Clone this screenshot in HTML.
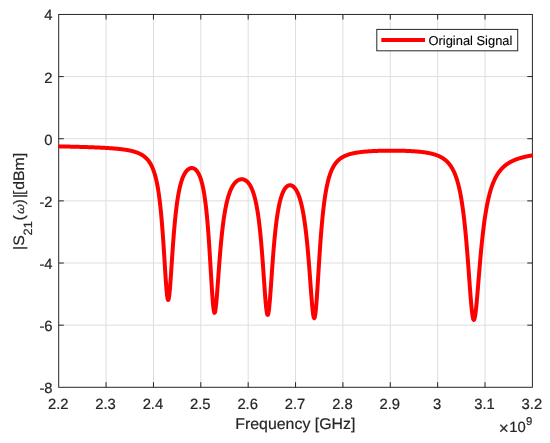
<!DOCTYPE html>
<html><head><meta charset="utf-8"><title>Original Signal</title>
<style>html,body{margin:0;padding:0;background:#fff}body{width:550px;height:443px;overflow:hidden}</style></head>
<body>
<svg width="550" height="443" viewBox="0 0 550 443" style="display:block">
<rect width="550" height="443" fill="#fff"/>
<path d="M106.07,14.45V387.3M153.44,14.45V387.3M200.81,14.45V387.3M248.18,14.45V387.3M295.55,14.45V387.3M342.92,14.45V387.3M390.29,14.45V387.3M437.66,14.45V387.3M485.03,14.45V387.3M58.7,76.59H532.4M58.7,138.73H532.4M58.7,200.88H532.4M58.7,263.02H532.4M58.7,325.16H532.4" stroke="#dedede" stroke-width="1" fill="none"/>
<path d="M106.07,387.3v-5.1M106.07,14.45v5.1M153.44,387.3v-5.1M153.44,14.45v5.1M200.81,387.3v-5.1M200.81,14.45v5.1M248.18,387.3v-5.1M248.18,14.45v5.1M295.55,387.3v-5.1M295.55,14.45v5.1M342.92,387.3v-5.1M342.92,14.45v5.1M390.29,387.3v-5.1M390.29,14.45v5.1M437.66,387.3v-5.1M437.66,14.45v5.1M485.03,387.3v-5.1M485.03,14.45v5.1M58.7,76.59h5.1M532.4,76.59h-5.1M58.7,138.73h5.1M532.4,138.73h-5.1M58.7,200.88h5.1M532.4,200.88h-5.1M58.7,263.02h5.1M532.4,263.02h-5.1M58.7,325.16h5.1M532.4,325.16h-5.1" stroke="#262626" stroke-width="1" fill="none"/>
<rect x="58.7" y="14.45" width="473.7" height="372.85" fill="none" stroke="#262626" stroke-width="1"/>
<clipPath id="c"><rect x="58.2" y="14.45" width="474.7" height="372.85"/></clipPath>
<path d="M56.91,146.32 L57.22,146.33 L57.54,146.34 L57.85,146.34 L58.17,146.35 L58.48,146.36 L58.80,146.36 L59.12,146.37 L59.43,146.38 L59.75,146.38 L60.06,146.39 L60.38,146.40 L60.69,146.41 L61.01,146.41 L61.33,146.42 L61.64,146.43 L61.96,146.43 L62.27,146.44 L62.59,146.45 L62.91,146.46 L63.22,146.46 L63.54,146.47 L63.85,146.48 L64.17,146.48 L64.48,146.49 L64.80,146.50 L65.12,146.51 L65.43,146.51 L65.75,146.52 L66.06,146.53 L66.38,146.54 L66.69,146.54 L67.01,146.55 L67.33,146.56 L67.64,146.57 L67.96,146.57 L68.27,146.58 L68.59,146.59 L68.91,146.60 L69.22,146.60 L69.54,146.61 L69.85,146.62 L70.17,146.63 L70.48,146.64 L70.80,146.64 L71.12,146.65 L71.43,146.66 L71.75,146.67 L72.06,146.68 L72.38,146.68 L72.70,146.69 L73.01,146.70 L73.33,146.71 L73.64,146.72 L73.96,146.72 L74.27,146.73 L74.59,146.74 L74.91,146.75 L75.22,146.76 L75.54,146.77 L75.85,146.77 L76.17,146.78 L76.48,146.79 L76.80,146.80 L77.12,146.81 L77.43,146.82 L77.75,146.83 L78.06,146.83 L78.38,146.84 L78.70,146.85 L79.01,146.86 L79.33,146.87 L79.64,146.88 L79.96,146.89 L80.27,146.90 L80.59,146.91 L80.91,146.92 L81.22,146.92 L81.54,146.93 L81.85,146.94 L82.17,146.95 L82.48,146.96 L82.80,146.97 L83.12,146.98 L83.43,146.99 L83.75,147.00 L84.06,147.01 L84.38,147.02 L84.70,147.03 L85.01,147.04 L85.33,147.05 L85.64,147.06 L85.96,147.07 L86.27,147.08 L86.59,147.09 L86.91,147.10 L87.22,147.11 L87.54,147.12 L87.85,147.13 L88.17,147.14 L88.49,147.15 L88.80,147.17 L89.12,147.18 L89.43,147.19 L89.75,147.20 L90.06,147.21 L90.38,147.22 L90.70,147.23 L91.01,147.24 L91.33,147.26 L91.64,147.27 L91.96,147.28 L92.27,147.29 L92.59,147.30 L92.91,147.31 L93.22,147.33 L93.54,147.34 L93.85,147.35 L94.17,147.36 L94.49,147.38 L94.80,147.39 L95.12,147.40 L95.43,147.41 L95.75,147.43 L96.06,147.44 L96.38,147.45 L96.70,147.47 L97.01,147.48 L97.33,147.49 L97.64,147.51 L97.96,147.52 L98.28,147.54 L98.59,147.55 L98.91,147.56 L99.22,147.58 L99.54,147.59 L99.85,147.61 L100.17,147.62 L100.49,147.64 L100.80,147.65 L101.12,147.67 L101.43,147.68 L101.75,147.70 L102.06,147.72 L102.38,147.73 L102.70,147.75 L103.01,147.76 L103.33,147.78 L103.64,147.80 L103.96,147.81 L104.28,147.83 L104.59,147.85 L104.91,147.87 L105.22,147.88 L105.54,147.90 L105.85,147.92 L106.17,147.94 L106.49,147.96 L106.80,147.98 L107.12,148.00 L107.43,148.02 L107.75,148.03 L108.06,148.05 L108.38,148.07 L108.70,148.09 L109.01,148.12 L109.33,148.14 L109.64,148.16 L109.96,148.18 L110.28,148.20 L110.59,148.22 L110.91,148.25 L111.22,148.27 L111.54,148.29 L111.85,148.31 L112.17,148.34 L112.49,148.36 L112.80,148.39 L113.12,148.41 L113.43,148.44 L113.75,148.46 L114.07,148.49 L114.38,148.51 L114.70,148.54 L115.01,148.57 L115.33,148.59 L115.64,148.62 L115.96,148.65 L116.28,148.68 L116.59,148.71 L116.91,148.74 L117.22,148.77 L117.54,148.80 L117.85,148.83 L118.17,148.86 L118.49,148.89 L118.80,148.93 L119.12,148.96 L119.43,148.99 L119.75,149.03 L120.07,149.06 L120.38,149.10 L120.70,149.14 L121.01,149.17 L121.33,149.21 L121.64,149.25 L121.96,149.29 L122.28,149.33 L122.59,149.37 L122.91,149.41 L123.22,149.45 L123.54,149.49 L123.85,149.54 L124.17,149.58 L124.49,149.63 L124.80,149.67 L125.12,149.72 L125.43,149.77 L125.75,149.82 L126.07,149.87 L126.38,149.92 L126.70,149.97 L127.01,150.03 L127.33,150.08 L127.64,150.14 L127.96,150.19 L128.28,150.25 L128.59,150.31 L128.91,150.37 L129.22,150.44 L129.54,150.50 L129.85,150.57 L130.17,150.63 L130.49,150.70 L130.80,150.77 L131.12,150.84 L131.43,150.92 L131.75,150.99 L132.07,151.07 L132.38,151.15 L132.70,151.23 L133.01,151.31 L133.33,151.40 L133.64,151.48 L133.96,151.57 L134.28,151.66 L134.59,151.76 L134.91,151.86 L135.22,151.95 L135.54,152.06 L135.86,152.16 L136.17,152.27 L136.49,152.38 L136.80,152.49 L137.12,152.61 L137.43,152.73 L137.75,152.86 L138.07,152.98 L138.38,153.12 L138.70,153.25 L139.01,153.39 L139.33,153.53 L139.64,153.68 L139.96,153.84 L140.28,153.99 L140.59,154.16 L140.91,154.32 L141.22,154.50 L141.54,154.68 L141.86,154.86 L142.17,155.05 L142.49,155.25 L142.80,155.46 L143.12,155.67 L143.43,155.89 L143.75,156.12 L144.07,156.35 L144.38,156.59 L144.70,156.85 L145.01,157.11 L145.33,157.38 L145.64,157.66 L145.96,157.96 L146.28,158.26 L146.59,158.58 L146.91,158.91 L147.22,159.25 L147.54,159.61 L147.86,159.98 L148.17,160.37 L148.49,160.77 L148.80,161.20 L149.12,161.63 L149.43,162.09 L149.75,162.57 L150.07,163.07 L150.38,163.60 L150.70,164.15 L151.01,164.72 L151.33,165.32 L151.65,165.95 L151.96,166.61 L152.28,167.30 L152.59,168.03 L152.91,168.79 L153.22,169.60 L153.54,170.44 L153.86,171.33 L154.17,172.27 L154.49,173.25 L154.80,174.29 L155.12,175.39 L155.43,176.55 L155.75,177.77 L156.07,179.06 L156.38,180.42 L156.70,181.87 L157.01,183.40 L157.33,185.01 L157.65,186.73 L157.96,188.54 L158.28,190.47 L158.59,192.51 L158.91,194.67 L159.22,196.96 L159.54,199.40 L159.86,201.98 L160.17,204.71 L160.49,207.61 L160.80,210.68 L161.12,213.92 L161.44,217.35 L161.75,220.97 L162.07,224.79 L162.38,228.79 L162.70,232.99 L163.01,237.37 L163.33,241.93 L163.65,246.65 L163.96,251.50 L164.28,256.46 L164.59,261.48 L164.91,266.51 L165.22,271.50 L165.54,276.35 L165.86,281.01 L166.17,285.36 L166.49,289.31 L166.80,292.77 L167.12,295.63 L167.44,297.83 L167.75,299.28 L168.07,299.95 L168.38,299.81 L168.70,298.89 L169.01,297.21 L169.33,294.83 L169.65,291.84 L169.96,288.33 L170.28,284.39 L170.59,280.13 L170.91,275.62 L171.22,270.96 L171.54,266.21 L171.86,261.46 L172.17,256.73 L172.49,252.09 L172.80,247.57 L173.12,243.18 L173.44,238.95 L173.75,234.89 L174.07,231.00 L174.38,227.30 L174.70,223.77 L175.01,220.43 L175.33,217.26 L175.65,214.26 L175.96,211.42 L176.28,208.74 L176.59,206.21 L176.91,203.83 L177.22,201.57 L177.54,199.45 L177.86,197.45 L178.17,195.56 L178.49,193.78 L178.80,192.11 L179.12,190.52 L179.44,189.03 L179.75,187.63 L180.07,186.30 L180.38,185.05 L180.70,183.87 L181.01,182.75 L181.33,181.70 L181.65,180.71 L181.96,179.77 L182.28,178.89 L182.59,178.06 L182.91,177.27 L183.23,176.53 L183.54,175.83 L183.86,175.18 L184.17,174.56 L184.49,173.97 L184.80,173.43 L185.12,172.91 L185.44,172.43 L185.75,171.98 L186.07,171.55 L186.38,171.16 L186.70,170.79 L187.01,170.45 L187.33,170.13 L187.65,169.84 L187.96,169.58 L188.28,169.33 L188.59,169.11 L188.91,168.91 L189.23,168.73 L189.54,168.57 L189.86,168.44 L190.17,168.32 L190.49,168.23 L190.80,168.15 L191.12,168.10 L191.44,168.07 L191.75,168.05 L192.07,168.06 L192.38,168.09 L192.70,168.14 L193.01,168.21 L193.33,168.30 L193.65,168.42 L193.96,168.55 L194.28,168.71 L194.59,168.90 L194.91,169.10 L195.23,169.34 L195.54,169.60 L195.86,169.88 L196.17,170.20 L196.49,170.54 L196.80,170.91 L197.12,171.32 L197.44,171.76 L197.75,172.23 L198.07,172.75 L198.38,173.30 L198.70,173.89 L199.02,174.52 L199.33,175.20 L199.65,175.93 L199.96,176.71 L200.28,177.54 L200.59,178.43 L200.91,179.38 L201.23,180.40 L201.54,181.48 L201.86,182.64 L202.17,183.87 L202.49,185.19 L202.80,186.60 L203.12,188.10 L203.44,189.70 L203.75,191.41 L204.07,193.23 L204.38,195.17 L204.70,197.24 L205.02,199.44 L205.33,201.79 L205.65,204.29 L205.96,206.96 L206.28,209.79 L206.59,212.80 L206.91,215.99 L207.23,219.38 L207.54,222.97 L207.86,226.76 L208.17,230.76 L208.49,234.96 L208.80,239.37 L209.12,243.98 L209.44,248.77 L209.75,253.73 L210.07,258.84 L210.38,264.06 L210.70,269.35 L211.02,274.66 L211.33,279.94 L211.65,285.11 L211.96,290.08 L212.28,294.79 L212.59,299.12 L212.91,303.00 L213.23,306.33 L213.54,309.04 L213.86,311.06 L214.17,312.35 L214.49,312.88 L214.81,312.66 L215.12,311.71 L215.44,310.09 L215.75,307.84 L216.07,305.06 L216.38,301.81 L216.70,298.19 L217.02,294.29 L217.33,290.17 L217.65,285.91 L217.96,281.57 L218.28,277.20 L218.59,272.85 L218.91,268.56 L219.23,264.35 L219.54,260.25 L219.86,256.28 L220.17,252.43 L220.49,248.74 L220.81,245.19 L221.12,241.79 L221.44,238.54 L221.75,235.43 L222.07,232.48 L222.38,229.66 L222.70,226.98 L223.02,224.43 L223.33,222.01 L223.65,219.71 L223.96,217.53 L224.28,215.45 L224.60,213.48 L224.91,211.61 L225.23,209.83 L225.54,208.14 L225.86,206.54 L226.17,205.02 L226.49,203.57 L226.81,202.19 L227.12,200.89 L227.44,199.64 L227.75,198.46 L228.07,197.34 L228.38,196.27 L228.70,195.25 L229.02,194.28 L229.33,193.36 L229.65,192.49 L229.96,191.65 L230.28,190.86 L230.60,190.11 L230.91,189.39 L231.23,188.71 L231.54,188.06 L231.86,187.44 L232.17,186.85 L232.49,186.30 L232.81,185.77 L233.12,185.26 L233.44,184.79 L233.75,184.33 L234.07,183.90 L234.38,183.50 L234.70,183.11 L235.02,182.75 L235.33,182.41 L235.65,182.09 L235.96,181.79 L236.28,181.50 L236.60,181.24 L236.91,180.99 L237.23,180.76 L237.54,180.55 L237.86,180.36 L238.17,180.18 L238.49,180.01 L238.81,179.87 L239.12,179.74 L239.44,179.62 L239.75,179.52 L240.07,179.43 L240.38,179.36 L240.70,179.31 L241.02,179.27 L241.33,179.24 L241.65,179.23 L241.96,179.23 L242.28,179.25 L242.60,179.29 L242.91,179.34 L243.23,179.40 L243.54,179.48 L243.86,179.58 L244.17,179.69 L244.49,179.82 L244.81,179.97 L245.12,180.13 L245.44,180.31 L245.75,180.51 L246.07,180.72 L246.39,180.96 L246.70,181.21 L247.02,181.49 L247.33,181.79 L247.65,182.10 L247.96,182.44 L248.28,182.81 L248.60,183.20 L248.91,183.61 L249.23,184.05 L249.54,184.51 L249.86,185.01 L250.17,185.53 L250.49,186.09 L250.81,186.68 L251.12,187.30 L251.44,187.96 L251.75,188.66 L252.07,189.39 L252.39,190.17 L252.70,190.99 L253.02,191.86 L253.33,192.78 L253.65,193.75 L253.96,194.77 L254.28,195.86 L254.60,197.00 L254.91,198.21 L255.23,199.48 L255.54,200.83 L255.86,202.25 L256.17,203.76 L256.49,205.35 L256.81,207.03 L257.12,208.81 L257.44,210.69 L257.75,212.67 L258.07,214.77 L258.39,216.98 L258.70,219.32 L259.02,221.79 L259.33,224.39 L259.65,227.13 L259.96,230.03 L260.28,233.07 L260.60,236.27 L260.91,239.63 L261.23,243.15 L261.54,246.83 L261.86,250.66 L262.18,254.65 L262.49,258.78 L262.81,263.04 L263.12,267.42 L263.44,271.88 L263.75,276.40 L264.07,280.94 L264.39,285.45 L264.70,289.88 L265.02,294.18 L265.33,298.27 L265.65,302.07 L265.96,305.52 L266.28,308.54 L266.60,311.04 L266.91,312.97 L267.23,314.28 L267.54,314.92 L267.86,314.88 L268.18,314.15 L268.49,312.77 L268.81,310.76 L269.12,308.19 L269.44,305.12 L269.75,301.62 L270.07,297.78 L270.39,293.67 L270.70,289.35 L271.02,284.91 L271.33,280.41 L271.65,275.88 L271.97,271.38 L272.28,266.95 L272.60,262.61 L272.91,258.38 L273.23,254.29 L273.54,250.35 L273.86,246.57 L274.18,242.94 L274.49,239.48 L274.81,236.18 L275.12,233.04 L275.44,230.06 L275.75,227.23 L276.07,224.55 L276.39,222.01 L276.70,219.61 L277.02,217.35 L277.33,215.20 L277.65,213.18 L277.97,211.27 L278.28,209.47 L278.60,207.77 L278.91,206.16 L279.23,204.65 L279.54,203.22 L279.86,201.88 L280.18,200.62 L280.49,199.42 L280.81,198.30 L281.12,197.25 L281.44,196.25 L281.75,195.32 L282.07,194.44 L282.39,193.62 L282.70,192.84 L283.02,192.12 L283.33,191.44 L283.65,190.81 L283.97,190.22 L284.28,189.67 L284.60,189.15 L284.91,188.68 L285.23,188.24 L285.54,187.83 L285.86,187.46 L286.18,187.12 L286.49,186.81 L286.81,186.53 L287.12,186.28 L287.44,186.06 L287.75,185.87 L288.07,185.70 L288.39,185.56 L288.70,185.44 L289.02,185.35 L289.33,185.29 L289.65,185.25 L289.97,185.23 L290.28,185.24 L290.60,185.27 L290.91,185.33 L291.23,185.41 L291.54,185.52 L291.86,185.65 L292.18,185.80 L292.49,185.98 L292.81,186.19 L293.12,186.42 L293.44,186.67 L293.76,186.96 L294.07,187.26 L294.39,187.60 L294.70,187.96 L295.02,188.35 L295.33,188.78 L295.65,189.23 L295.97,189.71 L296.28,190.23 L296.60,190.78 L296.91,191.36 L297.23,191.98 L297.54,192.64 L297.86,193.33 L298.18,194.07 L298.49,194.85 L298.81,195.67 L299.12,196.53 L299.44,197.45 L299.76,198.42 L300.07,199.43 L300.39,200.51 L300.70,201.64 L301.02,202.83 L301.33,204.09 L301.65,205.41 L301.97,206.80 L302.28,208.27 L302.60,209.81 L302.91,211.43 L303.23,213.14 L303.54,214.94 L303.86,216.84 L304.18,218.83 L304.49,220.92 L304.81,223.13 L305.12,225.44 L305.44,227.87 L305.76,230.43 L306.07,233.11 L306.39,235.92 L306.70,238.87 L307.02,241.95 L307.33,245.17 L307.65,248.53 L307.97,252.03 L308.28,255.66 L308.60,259.43 L308.91,263.33 L309.23,267.33 L309.55,271.44 L309.86,275.63 L310.18,279.87 L310.49,284.14 L310.81,288.40 L311.12,292.60 L311.44,296.69 L311.76,300.63 L312.07,304.33 L312.39,307.74 L312.70,310.79 L313.02,313.39 L313.33,315.49 L313.65,317.02 L313.97,317.93 L314.28,318.18 L314.60,317.75 L314.91,316.64 L315.23,314.87 L315.55,312.47 L315.86,309.49 L316.18,305.99 L316.49,302.05 L316.81,297.75 L317.12,293.15 L317.44,288.32 L317.76,283.35 L318.07,278.30 L318.39,273.21 L318.70,268.14 L319.02,263.13 L319.33,258.22 L319.65,253.42 L319.97,248.76 L320.28,244.26 L320.60,239.92 L320.91,235.75 L321.23,231.76 L321.55,227.95 L321.86,224.32 L322.18,220.86 L322.49,217.57 L322.81,214.44 L323.12,211.48 L323.44,208.66 L323.76,205.99 L324.07,203.47 L324.39,201.07 L324.70,198.80 L325.02,196.66 L325.34,194.62 L325.65,192.70 L325.97,190.87 L326.28,189.14 L326.60,187.50 L326.91,185.95 L327.23,184.47 L327.55,183.08 L327.86,181.75 L328.18,180.49 L328.49,179.30 L328.81,178.16 L329.12,177.08 L329.44,176.05 L329.76,175.08 L330.07,174.15 L330.39,173.26 L330.70,172.42 L331.02,171.62 L331.34,170.85 L331.65,170.12 L331.97,169.42 L332.28,168.75 L332.60,168.12 L332.91,167.51 L333.23,166.93 L333.55,166.37 L333.86,165.84 L334.18,165.33 L334.49,164.84 L334.81,164.37 L335.12,163.92 L335.44,163.49 L335.76,163.08 L336.07,162.68 L336.39,162.30 L336.70,161.93 L337.02,161.58 L337.34,161.24 L337.65,160.92 L337.97,160.60 L338.28,160.30 L338.60,160.01 L338.91,159.73 L339.23,159.46 L339.55,159.20 L339.86,158.95 L340.18,158.71 L340.49,158.48 L340.81,158.25 L341.13,158.04 L341.44,157.83 L341.76,157.62 L342.07,157.43 L342.39,157.24 L342.70,157.06 L343.02,156.88 L343.34,156.71 L343.65,156.54 L343.97,156.38 L344.28,156.22 L344.60,156.07 L344.91,155.93 L345.23,155.79 L345.55,155.65 L345.86,155.51 L346.18,155.39 L346.49,155.26 L346.81,155.14 L347.13,155.02 L347.44,154.91 L347.76,154.79 L348.07,154.69 L348.39,154.58 L348.70,154.48 L349.02,154.38 L349.34,154.28 L349.65,154.19 L349.97,154.10 L350.28,154.01 L350.60,153.92 L350.92,153.84 L351.23,153.76 L351.55,153.68 L351.86,153.60 L352.18,153.53 L352.49,153.45 L352.81,153.38 L353.13,153.31 L353.44,153.24 L353.76,153.18 L354.07,153.11 L354.39,153.05 L354.70,152.99 L355.02,152.93 L355.34,152.87 L355.65,152.81 L355.97,152.76 L356.28,152.70 L356.60,152.65 L356.92,152.60 L357.23,152.55 L357.55,152.50 L357.86,152.45 L358.18,152.41 L358.49,152.36 L358.81,152.32 L359.13,152.27 L359.44,152.23 L359.76,152.19 L360.07,152.15 L360.39,152.11 L360.70,152.07 L361.02,152.03 L361.34,151.99 L361.65,151.96 L361.97,151.92 L362.28,151.89 L362.60,151.85 L362.92,151.82 L363.23,151.79 L363.55,151.76 L363.86,151.73 L364.18,151.70 L364.49,151.67 L364.81,151.64 L365.13,151.61 L365.44,151.58 L365.76,151.56 L366.07,151.53 L366.39,151.50 L366.70,151.48 L367.02,151.45 L367.34,151.43 L367.65,151.41 L367.97,151.38 L368.28,151.36 L368.60,151.34 L368.92,151.32 L369.23,151.30 L369.55,151.27 L369.86,151.25 L370.18,151.23 L370.49,151.22 L370.81,151.20 L371.13,151.18 L371.44,151.16 L371.76,151.14 L372.07,151.13 L372.39,151.11 L372.71,151.09 L373.02,151.08 L373.34,151.06 L373.65,151.05 L373.97,151.03 L374.28,151.02 L374.60,151.00 L374.92,150.99 L375.23,150.97 L375.55,150.96 L375.86,150.95 L376.18,150.94 L376.49,150.92 L376.81,150.91 L377.13,150.90 L377.44,150.89 L377.76,150.88 L378.07,150.87 L378.39,150.86 L378.71,150.85 L379.02,150.84 L379.34,150.83 L379.65,150.82 L379.97,150.81 L380.28,150.80 L380.60,150.79 L380.92,150.78 L381.23,150.77 L381.55,150.77 L381.86,150.76 L382.18,150.75 L382.50,150.75 L382.81,150.74 L383.13,150.73 L383.44,150.73 L383.76,150.72 L384.07,150.71 L384.39,150.71 L384.71,150.70 L385.02,150.70 L385.34,150.69 L385.65,150.69 L385.97,150.68 L386.28,150.68 L386.60,150.68 L386.92,150.67 L387.23,150.67 L387.55,150.67 L387.86,150.66 L388.18,150.66 L388.50,150.66 L388.81,150.66 L389.13,150.65 L389.44,150.65 L389.76,150.65 L390.07,150.65 L390.39,150.65 L390.71,150.65 L391.02,150.65 L391.34,150.65 L391.65,150.65 L391.97,150.64 L392.28,150.65 L392.60,150.65 L392.92,150.65 L393.23,150.65 L393.55,150.65 L393.86,150.65 L394.18,150.65 L394.50,150.65 L394.81,150.65 L395.13,150.66 L395.44,150.66 L395.76,150.66 L396.07,150.66 L396.39,150.67 L396.71,150.67 L397.02,150.67 L397.34,150.68 L397.65,150.68 L397.97,150.69 L398.29,150.69 L398.60,150.69 L398.92,150.70 L399.23,150.70 L399.55,150.71 L399.86,150.72 L400.18,150.72 L400.50,150.73 L400.81,150.73 L401.13,150.74 L401.44,150.75 L401.76,150.76 L402.07,150.76 L402.39,150.77 L402.71,150.78 L403.02,150.79 L403.34,150.80 L403.65,150.80 L403.97,150.81 L404.29,150.82 L404.60,150.83 L404.92,150.84 L405.23,150.85 L405.55,150.86 L405.86,150.88 L406.18,150.89 L406.50,150.90 L406.81,150.91 L407.13,150.92 L407.44,150.94 L407.76,150.95 L408.07,150.96 L408.39,150.98 L408.71,150.99 L409.02,151.00 L409.34,151.02 L409.65,151.03 L409.97,151.05 L410.29,151.07 L410.60,151.08 L410.92,151.10 L411.23,151.12 L411.55,151.13 L411.86,151.15 L412.18,151.17 L412.50,151.19 L412.81,151.21 L413.13,151.23 L413.44,151.25 L413.76,151.27 L414.07,151.29 L414.39,151.31 L414.71,151.33 L415.02,151.36 L415.34,151.38 L415.65,151.40 L415.97,151.43 L416.29,151.45 L416.60,151.48 L416.92,151.50 L417.23,151.53 L417.55,151.56 L417.86,151.59 L418.18,151.61 L418.50,151.64 L418.81,151.67 L419.13,151.70 L419.44,151.73 L419.76,151.77 L420.08,151.80 L420.39,151.83 L420.71,151.87 L421.02,151.90 L421.34,151.94 L421.65,151.97 L421.97,152.01 L422.29,152.05 L422.60,152.09 L422.92,152.13 L423.23,152.17 L423.55,152.21 L423.86,152.25 L424.18,152.30 L424.50,152.34 L424.81,152.39 L425.13,152.43 L425.44,152.48 L425.76,152.53 L426.08,152.58 L426.39,152.63 L426.71,152.69 L427.02,152.74 L427.34,152.79 L427.65,152.85 L427.97,152.91 L428.29,152.97 L428.60,153.03 L428.92,153.09 L429.23,153.15 L429.55,153.22 L429.86,153.28 L430.18,153.35 L430.50,153.42 L430.81,153.49 L431.13,153.57 L431.44,153.64 L431.76,153.72 L432.08,153.80 L432.39,153.88 L432.71,153.96 L433.02,154.05 L433.34,154.14 L433.65,154.23 L433.97,154.32 L434.29,154.41 L434.60,154.51 L434.92,154.61 L435.23,154.71 L435.55,154.81 L435.87,154.92 L436.18,155.03 L436.50,155.14 L436.81,155.26 L437.13,155.38 L437.44,155.50 L437.76,155.63 L438.08,155.76 L438.39,155.89 L438.71,156.03 L439.02,156.17 L439.34,156.31 L439.65,156.46 L439.97,156.61 L440.29,156.77 L440.60,156.93 L440.92,157.10 L441.23,157.27 L441.55,157.45 L441.87,157.63 L442.18,157.82 L442.50,158.01 L442.81,158.21 L443.13,158.42 L443.44,158.63 L443.76,158.85 L444.08,159.07 L444.39,159.30 L444.71,159.54 L445.02,159.79 L445.34,160.04 L445.65,160.31 L445.97,160.58 L446.29,160.86 L446.60,161.15 L446.92,161.45 L447.23,161.76 L447.55,162.08 L447.87,162.41 L448.18,162.76 L448.50,163.11 L448.81,163.48 L449.13,163.86 L449.44,164.26 L449.76,164.66 L450.08,165.09 L450.39,165.53 L450.71,165.98 L451.02,166.45 L451.34,166.94 L451.66,167.45 L451.97,167.98 L452.29,168.52 L452.60,169.09 L452.92,169.68 L453.23,170.30 L453.55,170.94 L453.87,171.60 L454.18,172.29 L454.50,173.01 L454.81,173.76 L455.13,174.54 L455.44,175.35 L455.76,176.19 L456.08,177.08 L456.39,177.99 L456.71,178.95 L457.02,179.95 L457.34,180.99 L457.66,182.08 L457.97,183.22 L458.29,184.41 L458.60,185.64 L458.92,186.94 L459.23,188.29 L459.55,189.71 L459.87,191.18 L460.18,192.73 L460.50,194.35 L460.81,196.04 L461.13,197.80 L461.45,199.65 L461.76,201.59 L462.08,203.61 L462.39,205.72 L462.71,207.94 L463.02,210.25 L463.34,212.66 L463.66,215.19 L463.97,217.82 L464.29,220.58 L464.60,223.44 L464.92,226.43 L465.23,229.55 L465.55,232.78 L465.87,236.15 L466.18,239.63 L466.50,243.24 L466.81,246.97 L467.13,250.82 L467.45,254.77 L467.76,258.82 L468.08,262.97 L468.39,267.18 L468.71,271.45 L469.02,275.75 L469.34,280.06 L469.66,284.35 L469.97,288.59 L470.29,292.73 L470.60,296.74 L470.92,300.58 L471.23,304.20 L471.55,307.54 L471.87,310.57 L472.18,313.24 L472.50,315.51 L472.81,317.33 L473.13,318.69 L473.45,319.56 L473.76,319.92 L474.08,319.78 L474.39,319.14 L474.71,318.03 L475.02,316.46 L475.34,314.47 L475.66,312.10 L475.97,309.39 L476.29,306.39 L476.60,303.14 L476.92,299.69 L477.24,296.08 L477.55,292.34 L477.87,288.53 L478.18,284.66 L478.50,280.77 L478.81,276.88 L479.13,273.03 L479.45,269.21 L479.76,265.46 L480.08,261.78 L480.39,258.18 L480.71,254.68 L481.02,251.27 L481.34,247.96 L481.66,244.75 L481.97,241.65 L482.29,238.66 L482.60,235.77 L482.92,232.98 L483.24,230.30 L483.55,227.72 L483.87,225.24 L484.18,222.85 L484.50,220.55 L484.81,218.34 L485.13,216.22 L485.45,214.19 L485.76,212.23 L486.08,210.35 L486.39,208.55 L486.71,206.81 L487.02,205.15 L487.34,203.55 L487.66,202.01 L487.97,200.53 L488.29,199.11 L488.60,197.75 L488.92,196.43 L489.24,195.17 L489.55,193.95 L489.87,192.78 L490.18,191.66 L490.50,190.57 L490.81,189.53 L491.13,188.52 L491.45,187.55 L491.76,186.62 L492.08,185.71 L492.39,184.84 L492.71,184.00 L493.02,183.19 L493.34,182.41 L493.66,181.66 L493.97,180.93 L494.29,180.22 L494.60,179.54 L494.92,178.88 L495.24,178.24 L495.55,177.62 L495.87,177.03 L496.18,176.45 L496.50,175.89 L496.81,175.35 L497.13,174.82 L497.45,174.31 L497.76,173.82 L498.08,173.34 L498.39,172.87 L498.71,172.42 L499.03,171.99 L499.34,171.56 L499.66,171.15 L499.97,170.75 L500.29,170.36 L500.60,169.98 L500.92,169.61 L501.24,169.25 L501.55,168.91 L501.87,168.57 L502.18,168.24 L502.50,167.92 L502.81,167.60 L503.13,167.30 L503.45,167.00 L503.76,166.72 L504.08,166.43 L504.39,166.16 L504.71,165.89 L505.03,165.63 L505.34,165.38 L505.66,165.13 L505.97,164.89 L506.29,164.65 L506.60,164.42 L506.92,164.20 L507.24,163.98 L507.55,163.77 L507.87,163.56 L508.18,163.35 L508.50,163.15 L508.82,162.96 L509.13,162.77 L509.45,162.58 L509.76,162.40 L510.08,162.22 L510.39,162.04 L510.71,161.87 L511.03,161.70 L511.34,161.54 L511.66,161.38 L511.97,161.22 L512.29,161.07 L512.60,160.92 L512.92,160.77 L513.24,160.63 L513.55,160.49 L513.87,160.35 L514.18,160.21 L514.50,160.08 L514.82,159.95 L515.13,159.82 L515.45,159.69 L515.76,159.57 L516.08,159.45 L516.39,159.33 L516.71,159.21 L517.03,159.10 L517.34,158.99 L517.66,158.88 L517.97,158.77 L518.29,158.66 L518.60,158.56 L518.92,158.46 L519.24,158.36 L519.55,158.26 L519.87,158.16 L520.18,158.07 L520.50,157.97 L520.82,157.88 L521.13,157.79 L521.45,157.70 L521.76,157.61 L522.08,157.53 L522.39,157.44 L522.71,157.36 L523.03,157.28 L523.34,157.20 L523.66,157.12 L523.97,157.04 L524.29,156.96 L524.61,156.89 L524.92,156.81 L525.24,156.74 L525.55,156.67 L525.87,156.60 L526.18,156.53 L526.50,156.46 L526.82,156.39 L527.13,156.32 L527.45,156.26 L527.76,156.19 L528.08,156.13 L528.39,156.07 L528.71,156.01 L529.03,155.94 L529.34,155.88 L529.66,155.83 L529.97,155.77 L530.29,155.71 L530.61,155.65 L530.92,155.60 L531.24,155.54 L531.55,155.49 L531.87,155.43 L532.18,155.38 L532.50,155.33 L532.82,155.28 L533.13,155.23 L533.45,155.18 L533.76,155.13 L534.08,155.08 L534.39,155.03" stroke="#ff0000" stroke-width="4" fill="none" stroke-linejoin="round" clip-path="url(#c)"/>
<g font-family="'Liberation Sans', Arial, Helvetica, sans-serif" fill="#262626" stroke="#262626" stroke-width="0.2" font-size="14.8" text-rendering="geometricPrecision">
<text x="58.20" y="408.6" text-anchor="middle">2.2</text>
<text x="105.57" y="408.6" text-anchor="middle">2.3</text>
<text x="152.94" y="408.6" text-anchor="middle">2.4</text>
<text x="200.31" y="408.6" text-anchor="middle">2.5</text>
<text x="247.68" y="408.6" text-anchor="middle">2.6</text>
<text x="295.05" y="408.6" text-anchor="middle">2.7</text>
<text x="342.42" y="408.6" text-anchor="middle">2.8</text>
<text x="389.79" y="408.6" text-anchor="middle">2.9</text>
<text x="437.16" y="408.6" text-anchor="middle">3</text>
<text x="484.53" y="408.6" text-anchor="middle">3.1</text>
<text x="531.90" y="408.6" text-anchor="middle">3.2</text>
<text x="52.6" y="20.45" text-anchor="end">4</text>
<text x="52.6" y="82.59" text-anchor="end">2</text>
<text x="52.6" y="144.73" text-anchor="end">0</text>
<text x="52.6" y="206.88" text-anchor="end">-2</text>
<text x="52.6" y="269.02" text-anchor="end">-4</text>
<text x="52.6" y="331.16" text-anchor="end">-6</text>
<text x="52.6" y="393.30" text-anchor="end">-8</text>
<text x="498.7" y="434.0" font-size="17.2">×</text><text x="509.3" y="431.9">10</text><text x="525.9" y="425.2" font-size="11.3">9</text>
<text transform="translate(295.3,429.3) scale(1,0.975)" text-anchor="middle" font-size="15.9">Frequency [GHz]</text>
<g transform="translate(23.8,250) rotate(-90) scale(1,0.95)"><text x="0" y="0" font-size="15.9">|</text><text x="4.3" y="0" font-size="15.9">S</text><text x="14.6" y="8.1" font-size="12.7">21</text><text x="29.4" y="0" font-size="15.9">(</text><text x="45.5" y="0" font-size="15.9">)</text><text x="52.1" y="0" font-size="15.9">|</text><text x="55.1" y="0" font-size="15.9">[</text><text x="60.15" y="0" font-size="15.9">dBm]</text><text transform="translate(35.5,0) skewX(-12)" font-size="12.4">ω</text></g>
</g>
<rect x="376.8" y="29.4" width="140.9" height="21.4" fill="#fff" stroke="#262626" stroke-width="1"/>
<path d="M381.3,39.9H425" stroke="#ff0000" stroke-width="4"/>
<text x="428.5" y="45.3" stroke="#000" stroke-width="0.1" text-rendering="geometricPrecision" font-family="'Liberation Sans', Arial, Helvetica, sans-serif" font-size="12.9" fill="#000">Original Signal</text>
</svg>
</body></html>
